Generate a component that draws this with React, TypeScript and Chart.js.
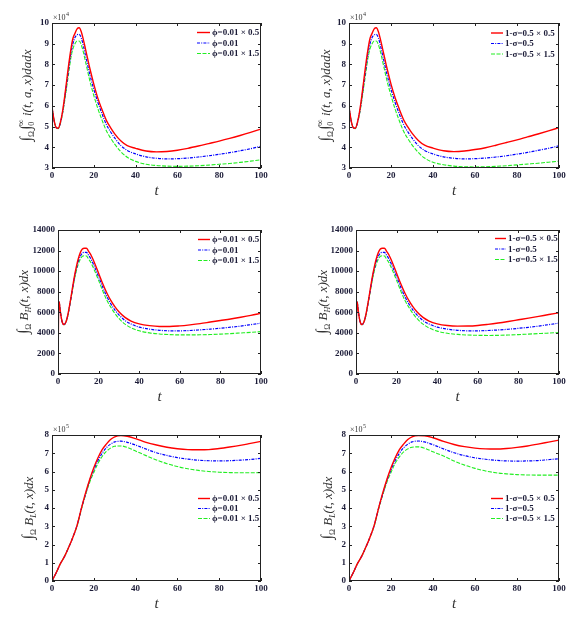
import React, { useEffect, useRef } from 'react';
import { Chart, registerables } from 'chart.js';
Chart.register(...registerables);

// ---------- data ----------
const tA = [0,1,2,3,4,5,6,7,8,9,10,11,12,13,14,15,16,17,18,20,22,24,26,28,30,33,36,40,45,50,55,60,65,70,75,80,85,90,95,100];
// panel 1 (x10^4)
const iPhiHalf = [5.95,5.3,4.95,4.92,5.2,5.7,6.4,7.2,8.0,8.7,9.25,9.5,9.72,9.77,9.58,9.2,8.75,8.3,7.85,7.05,6.35,5.8,5.3,4.95,4.65,4.3,4.08,3.95,3.82,3.78,3.8,3.86,3.95,4.06,4.18,4.3,4.43,4.57,4.72,4.88];
const iPhi = [5.95,5.3,4.95,4.92,5.18,5.65,6.3,7.05,7.8,8.5,9.0,9.3,9.43,9.45,9.28,8.9,8.45,8.0,7.55,6.8,6.15,5.6,5.1,4.75,4.45,4.08,3.85,3.68,3.54,3.47,3.44,3.45,3.48,3.53,3.59,3.66,3.74,3.83,3.93,4.05];
const iPhi15 = [5.95,5.3,4.95,4.9,5.15,5.6,6.2,6.9,7.6,8.3,8.75,9.0,9.13,9.13,8.95,8.6,8.15,7.7,7.25,6.5,5.85,5.3,4.8,4.45,4.15,3.78,3.52,3.32,3.18,3.12,3.09,3.08,3.09,3.11,3.14,3.18,3.22,3.27,3.33,3.4];
// panel 2 (x10^4)
const iSigHalf = [5.95,5.3,4.95,4.92,5.2,5.7,6.4,7.2,8.0,8.7,9.25,9.5,9.72,9.77,9.58,9.2,8.75,8.3,7.85,7.05,6.38,5.83,5.33,4.98,4.68,4.33,4.1,3.96,3.83,3.79,3.82,3.89,3.98,4.1,4.23,4.36,4.5,4.64,4.79,4.95];
const iSig = [5.95,5.3,4.95,4.92,5.18,5.65,6.3,7.05,7.8,8.5,9.0,9.3,9.43,9.45,9.28,8.9,8.45,8.0,7.55,6.8,6.15,5.6,5.1,4.75,4.45,4.08,3.85,3.68,3.54,3.47,3.44,3.45,3.48,3.53,3.59,3.67,3.75,3.85,3.95,4.07];
const iSig15 = [5.95,5.3,4.95,4.9,5.15,5.6,6.2,6.9,7.6,8.3,8.75,9.0,9.13,9.13,8.95,8.6,8.15,7.7,7.25,6.5,5.83,5.27,4.77,4.42,4.12,3.75,3.48,3.28,3.16,3.09,3.06,3.05,3.06,3.08,3.11,3.15,3.19,3.23,3.28,3.33];

const tB = [0,0.3,0.6,1,2,3,4,5,6,7,8,9,10,11,12,13,14,15,16,17,18,20,22,24,26,28,30,33,36,40,45,50,55,60,65,70,75,80,85,90,95,100];
// panel 3
const bhPhiHalf = [0,6500,7000,6300,5100,4800,5100,5900,7000,8200,9400,10400,11200,11800,12150,12230,12230,11950,11650,11250,10800,9800,8800,7900,7150,6550,6050,5500,5150,4880,4700,4620,4620,4680,4780,4900,5050,5200,5350,5520,5700,5900];
const bhPhi = [0,6500,7000,6300,5100,4800,5100,5850,6950,8100,9250,10200,10950,11450,11750,11830,11830,11560,11260,10860,10420,9450,8450,7550,6830,6230,5750,5200,4860,4560,4360,4250,4200,4200,4230,4290,4360,4450,4550,4660,4800,4950];
const bhPhi15 = [0,6500,7000,6300,5100,4800,5100,5800,6900,8000,9100,10000,10700,11150,11450,11500,11480,11200,10900,10500,10060,9100,8100,7200,6500,5900,5400,4850,4500,4200,4000,3890,3830,3800,3800,3810,3840,3880,3930,3990,4050,4120];
// panel 4
const bhSigHalf = [0,6500,7000,6300,5100,4800,5100,5900,7000,8200,9400,10400,11200,11800,12150,12230,12230,11950,11650,11250,10800,9800,8800,7900,7150,6550,6050,5500,5150,4880,4710,4650,4660,4720,4830,4960,5110,5270,5430,5600,5780,5950];
const bhSig = [0,6500,7000,6300,5100,4800,5100,5850,6950,8100,9250,10200,10950,11450,11750,11830,11830,11560,11260,10860,10420,9450,8450,7550,6830,6230,5750,5200,4860,4560,4360,4250,4200,4200,4230,4280,4350,4440,4540,4660,4800,4950];
const bhSig15 = [0,6500,7000,6300,5100,4800,5100,5800,6900,8000,9100,10000,10700,11150,11450,11500,11480,11200,10900,10500,10060,9100,8100,7200,6500,5900,5400,4850,4480,4170,3960,3850,3790,3760,3750,3760,3790,3830,3880,3930,3980,4030];

const tC = [0,2,4,6,8,10,12,14,16,18,20,22,24,26,28,30,33,36,40,45,50,55,60,65,70,75,80,85,90,95,100];
// panel 5 (x10^5)
const blPhiHalf = [0,0.45,0.95,1.35,1.85,2.4,3.05,3.95,4.8,5.55,6.2,6.75,7.2,7.5,7.75,7.9,7.97,7.93,7.8,7.6,7.45,7.33,7.25,7.2,7.19,7.2,7.26,7.34,7.43,7.54,7.65];
const blPhi = [0,0.45,0.95,1.35,1.85,2.4,3.05,3.95,4.75,5.5,6.1,6.6,7.0,7.3,7.5,7.62,7.66,7.6,7.45,7.23,7.03,6.88,6.76,6.68,6.62,6.59,6.58,6.59,6.62,6.66,6.72];
const blPhi15 = [0,0.45,0.95,1.35,1.85,2.4,3.0,3.9,4.7,5.4,5.95,6.45,6.82,7.1,7.28,7.38,7.4,7.32,7.12,6.87,6.63,6.43,6.27,6.15,6.06,6.0,5.96,5.94,5.93,5.93,5.94];
// panel 6 (x10^5)
const blSigHalf = [0,0.45,0.95,1.35,1.85,2.4,3.05,3.95,4.8,5.55,6.2,6.75,7.2,7.5,7.75,7.9,7.97,7.96,7.85,7.65,7.48,7.36,7.28,7.24,7.23,7.26,7.32,7.4,7.5,7.61,7.72];
const blSig = [0,0.45,0.95,1.35,1.85,2.4,3.05,3.95,4.75,5.5,6.1,6.6,7.0,7.3,7.5,7.62,7.67,7.62,7.47,7.24,7.03,6.87,6.75,6.67,6.61,6.58,6.57,6.58,6.6,6.65,6.7];
const blSig15 = [0,0.45,0.95,1.35,1.85,2.4,3.0,3.9,4.7,5.4,5.95,6.45,6.8,7.07,7.24,7.33,7.35,7.27,7.08,6.85,6.58,6.35,6.17,6.03,5.93,5.87,5.83,5.81,5.8,5.8,5.8];

const phiLabels = ['\u03D5=0.01 \u00D7 0.5', '\u03D5=0.01', '\u03D5=0.01 \u00D7 1.5'];
const sigLabels = ['1-\u03C3=0.5 \u00D7 0.5', '1-\u03C3=0.5', '1-\u03C3=0.5 \u00D7 1.5'];
const xTicksStep = 20;

// ---------- styles ----------
const SERIF = '"Liberation Serif", "Times New Roman", "DejaVu Serif", serif';
const COLORS = ['#ff0000', '#0000ff', '#22ee22'];
const WIDTHS = [1.4, 1.2, 1.1];
const DASHES: number[][] = [[], [3, 1.2, 1, 1.2], [4, 1.5]];
const TEXT = '#1c1c38';

type Seg = { t: string; s: number; it?: boolean; dy?: number; na?: boolean };

const titleI: Seg[] = [
  { t: '\u222B', s: 16 }, { t: '\u03A9', s: 8, dy: 3 }, { t: ' ', s: 4 },
  { t: '\u222B', s: 16 }, { t: '0', s: 8, dy: 3, na: true }, { t: '\u221E', s: 9, dy: -7 },
  { t: ' i(t, a, x)dadx', s: 13, it: true },
];
const titleBH: Seg[] = [
  { t: '\u222B', s: 16 }, { t: '\u03A9', s: 8, dy: 3 }, { t: ' B', s: 13, it: true },
  { t: 'H', s: 8, it: true, dy: 3 }, { t: '(t, x)dx', s: 13, it: true },
];
const titleBL: Seg[] = [
  { t: '\u222B', s: 16 }, { t: '\u03A9', s: 8, dy: 3 }, { t: ' B', s: 13, it: true },
  { t: 'L', s: 8, it: true, dy: 3 }, { t: '(t, x)dx', s: 13, it: true },
];

type Panel = {
  cx: number; cy: number; cw: number; ch: number;
  pl: number; pr: number; pt: number; pb: number;
  ymin: number; ymax: number; ystep: number;
  t: number[]; series: number[][]; labels: string[];
  leg: { x0: number; x1: number; tx: number; ys: number[] };
  exp: string | null; title: Seg[]; tx: number;
};

const panels: Panel[] = [
  { cx: 0, cy: 0, cw: 290, ch: 205, pl: 52, pr: 261, pt: 23, pb: 168, ymin: 3, ymax: 10, ystep: 1,
    t: tA, series: [iPhiHalf, iPhi, iPhi15], labels: phiLabels,
    leg: { x0: 197, x1: 210, tx: 212, ys: [32.5, 43, 53.5] }, exp: '4', title: titleI, tx: 27 },
  { cx: 290, cy: 0, cw: 295, ch: 205, pl: 349, pr: 559, pt: 23, pb: 168, ymin: 3, ymax: 10, ystep: 1,
    t: tA, series: [iSigHalf, iSig, iSig15], labels: sigLabels,
    leg: { x0: 491, x1: 503, tx: 505, ys: [33, 43.5, 54] }, exp: '4', title: titleI, tx: 326 },
  { cx: 0, cy: 205, cw: 290, ch: 205, pl: 58, pr: 261, pt: 230, pb: 374, ymin: 0, ymax: 14000, ystep: 2000,
    t: tB, series: [bhPhiHalf, bhPhi, bhPhi15], labels: phiLabels,
    leg: { x0: 198, x1: 210, tx: 212, ys: [239.5, 250, 260.5] }, exp: null, title: titleBH, tx: 24 },
  { cx: 290, cy: 205, cw: 295, ch: 205, pl: 356, pr: 559, pt: 230, pb: 374, ymin: 0, ymax: 14000, ystep: 2000,
    t: tB, series: [bhSigHalf, bhSig, bhSig15], labels: sigLabels,
    leg: { x0: 495, x1: 506, tx: 508, ys: [238.5, 249, 259.5] }, exp: null, title: titleBH, tx: 323 },
  { cx: 0, cy: 410, cw: 290, ch: 210, pl: 52, pr: 261, pt: 435, pb: 581, ymin: 0, ymax: 8, ystep: 1,
    t: tC, series: [blPhiHalf, blPhi, blPhi15], labels: phiLabels,
    leg: { x0: 198, x1: 210, tx: 212, ys: [498.5, 508.5, 518.5] }, exp: '5', title: titleBL, tx: 29 },
  { cx: 290, cy: 410, cw: 295, ch: 210, pl: 349, pr: 559, pt: 435, pb: 581, ymin: 0, ymax: 8, ystep: 1,
    t: tC, series: [blSigHalf, blSig, blSig15], labels: sigLabels,
    leg: { x0: 491, x1: 503, tx: 505, ys: [498.5, 508.5, 518.5] }, exp: '5', title: titleBL, tx: 328 },
];

function segFont(s: Seg) {
  return `${s.it ? 'italic ' : ''}${s.s}px ${SERIF}`;
}

function drawTitle(ctx: CanvasRenderingContext2D, segs: Seg[], cx: number, cy: number) {
  ctx.save();
  let total = 0;
  for (const s of segs) {
    ctx.font = segFont(s);
    if (!s.na) total += ctx.measureText(s.t).width;
  }
  ctx.translate(cx, cy);
  ctx.rotate(-Math.PI / 2);
  ctx.fillStyle = '#333';
  ctx.textBaseline = 'alphabetic';
  ctx.textAlign = 'left';
  let x = -total / 2;
  for (const s of segs) {
    ctx.font = segFont(s);
    ctx.fillText(s.t, x, 4 + (s.dy || 0));
    if (!s.na) x += ctx.measureText(s.t).width;
  }
  ctx.restore();
}

function makePlugin(p: Panel) {
  return {
    id: 'decor',
    afterDraw(chart: any) {
      const ctx: CanvasRenderingContext2D = chart.ctx;
      const a = chart.chartArea;
      const xs = chart.scales.x;
      const ys = chart.scales.y;
      ctx.save();
      // box
      ctx.strokeStyle = '#222';
      ctx.lineWidth = 1;
      ctx.setLineDash([]);
      ctx.strokeRect(a.left + 0.5, a.top + 0.5, a.right - a.left - 1, a.bottom - a.top - 1);
      // inward ticks
      const tl = 3;
      ctx.beginPath();
      for (const tk of xs.ticks) {
        const px = Math.round(xs.getPixelForValue(tk.value)) + 0.5;
        ctx.moveTo(px, a.bottom); ctx.lineTo(px, a.bottom - tl);
        ctx.moveTo(px, a.top); ctx.lineTo(px, a.top + tl);
      }
      for (const tk of ys.ticks) {
        const py = Math.round(ys.getPixelForValue(tk.value)) + 0.5;
        ctx.moveTo(a.left, py); ctx.lineTo(a.left + tl, py);
        ctx.moveTo(a.right, py); ctx.lineTo(a.right - tl, py);
      }
      ctx.stroke();
      // exponent
      if (p.exp) {
        ctx.fillStyle = '#333';
        ctx.textBaseline = 'alphabetic';
        ctx.textAlign = 'left';
        ctx.font = `8px ${SERIF}`;
        ctx.fillText('\u00D710', a.left + 1, a.top - 3);
        const w = ctx.measureText('\u00D710').width;
        ctx.font = `6px ${SERIF}`;
        ctx.fillText(p.exp, a.left + 1 + w + 0.5, a.top - 7);
      }
      // x title
      ctx.fillStyle = '#333';
      ctx.font = `italic 15px ${SERIF}`;
      ctx.textAlign = 'center';
      ctx.textBaseline = 'alphabetic';
      ctx.fillText('t', (a.left + a.right) / 2, a.bottom + 27);
      // y title
      drawTitle(ctx, p.title, p.tx - p.cx, (a.top + a.bottom) / 2);
      // legend
      const L = p.leg;
      p.labels.forEach((lab, i) => {
        const y = L.ys[i] - p.cy;
        ctx.strokeStyle = COLORS[i];
        ctx.lineWidth = WIDTHS[i];
        ctx.setLineDash(DASHES[i]);
        ctx.beginPath();
        ctx.moveTo(L.x0 - p.cx, y);
        ctx.lineTo(L.x1 - p.cx, y);
        ctx.stroke();
        ctx.setLineDash([]);
        ctx.fillStyle = TEXT;
        ctx.font = `bold 9px ${SERIF}`;
        ctx.textAlign = 'left';
        ctx.textBaseline = 'middle';
        ctx.fillText(lab, L.tx - p.cx, y + 0.5);
      });
      ctx.restore();
    },
  };
}

function buildChart(canvas: HTMLCanvasElement, p: Panel) {
  const tickFont = { family: SERIF, weight: 'bold' as const, size: 9 };
  return new Chart(canvas, {
    type: 'line',
    data: {
      datasets: p.series.map((s, i) => ({
        label: p.labels[i],
        data: p.t.map((x, j) => ({ x, y: s[j] })),
        borderColor: COLORS[i],
        borderWidth: WIDTHS[i],
        borderDash: DASHES[i],
        pointRadius: 0,
        fill: false,
        cubicInterpolationMode: 'monotone' as const,
      })),
    },
    options: {
      animation: false,
      responsive: false,
      devicePixelRatio: 1,
      events: [],
      layout: { padding: { left: 0, bottom: 0, top: p.pt - p.cy, right: p.cx + p.cw - p.pr } },
      plugins: { legend: { display: false }, tooltip: { enabled: false } },
      scales: {
        x: {
          type: 'linear', min: 0, max: 100,
          ticks: { stepSize: xTicksStep, font: tickFont, color: TEXT, padding: 2, maxRotation: 0, autoSkip: false },
          grid: { display: false, drawTicks: false },
          border: { display: false },
          afterFit: (ax: any) => { ax.height = p.cy + p.ch - p.pb; },
        },
        y: {
          type: 'linear', min: p.ymin, max: p.ymax,
          ticks: { stepSize: p.ystep, font: tickFont, color: TEXT, padding: 3, autoSkip: false, callback: (v: any) => String(v) },
          grid: { display: false, drawTicks: false },
          border: { display: false },
          afterFit: (ax: any) => { ax.width = p.pl - p.cx; },
        },
      },
    },
    plugins: [makePlugin(p)],
  } as any);
}

function PanelCanvas({ p }: { p: Panel }) {
  const ref = useRef<HTMLCanvasElement>(null);
  useEffect(() => {
    if (!ref.current) return;
    const c = buildChart(ref.current, p);
    return () => c.destroy();
  }, [p]);
  return (
    <canvas
      ref={ref}
      width={p.cw}
      height={p.ch}
      style={{ position: 'absolute', left: p.cx, top: p.cy, width: p.cw, height: p.ch }}
    />
  );
}

export default function App() {
  return (
    <div style={{ position: 'absolute', left: 0, top: 0, width: 585, height: 620, background: '#fff' }}>
      {panels.map((p, i) => <PanelCanvas key={i} p={p} />)}
    </div>
  );
}
